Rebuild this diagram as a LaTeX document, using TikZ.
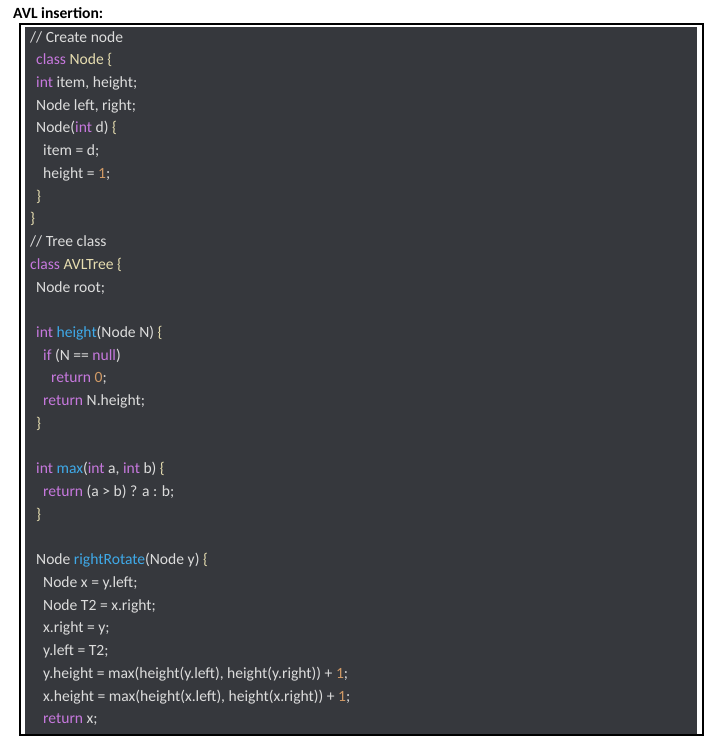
\documentclass[tikz,border=0pt]{standalone}
\usepackage{fontspec}
\setmainfont{Carlito}
\definecolor{bg}{HTML}{36383D}
\definecolor{tx}{HTML}{DCDCDC}
\definecolor{kw}{HTML}{C678DD}
\definecolor{fn}{HTML}{3FA9E8}
\definecolor{nu}{HTML}{D19A66}
\definecolor{br}{HTML}{E6DDB0}
\newcommand{\K}[1]{\textcolor{kw}{#1}}
\newcommand{\F}[1]{\textcolor{fn}{#1}}
\newcommand{\N}[1]{\textcolor{nu}{#1}}
\newcommand{\B}[1]{\textcolor{br}{#1}}
\begin{document}
\begin{tikzpicture}[x=1pt,y=-1pt,
  code/.style={anchor=base west,inner sep=0pt,text=tx,font=\fontsize{15.6}{18}\selectfont}]
\useasboundingbox (0,0) rectangle (713,747);
\fill[white] (0,0) rectangle (713,747);
\node[anchor=base west,inner sep=0pt,font=\bfseries\fontsize{15.6}{18}\selectfont] (title) at (13,18) {AVL insertion:};
\fill[bg] (25,27) rectangle (697,735);
\draw[line width=1.3pt] (20,24) rectangle (703,735);
\def\ys{22.73}
\node[code] (l1) at (30,42) {// Create node};
\node[code] (l2) at (36,42+1*\ys) {\K{class} \B{Node \{}};
\node[code] (l3) at (36,42+2*\ys) {\K{int} item, height;};
\node[code] (l4) at (36,42+3*\ys) {Node left, right;};
\node[code] (l5) at (36,42+4*\ys) {Node(\K{int} d) \B{\{}};
\node[code] (l6) at (43,42+5*\ys) {item = d;};
\node[code] (l7) at (43,42+6*\ys) {height = \N{1};};
\node[code] (l8) at (36,42+7*\ys) {\B{\}}};
\node[code] (l9) at (30,42+8*\ys) {\B{\}}};
\node[code] (l10) at (30,42+9*\ys) {// Tree class};
\node[code] (l11) at (30,42+10*\ys) {\K{class} \B{AVLTree \{}};
\node[code] (l12) at (36,42+11*\ys) {Node root;};
\node[code] (l14) at (36,42+13*\ys) {\K{int} \F{height}(Node N) \B{\{}};
\node[code] (l15) at (43,42+14*\ys) {\K{if} (N == \K{null})};
\node[code] (l16) at (51,42+15*\ys) {\K{return} \N{0};};
\node[code] (l17) at (43,42+16*\ys) {\K{return} N.height;};
\node[code] (l18) at (36,42+17*\ys) {\B{\}}};
\node[code] (l20) at (36,42+19*\ys) {\K{int} \F{max}(\K{int} a, \K{int} b) \B{\{}};
\node[code] (l21) at (43,42+20*\ys) {\K{return} (a > b) ? a : b;};
\node[code] (l22) at (36,42+21*\ys) {\B{\}}};
\node[code] (l24) at (36,42+23*\ys) {Node \F{rightRotate}(Node y) \B{\{}};
\node[code] (l25) at (43,42+24*\ys) {Node x = y.left;};
\node[code] (l26) at (43,42+25*\ys) {Node T2 = x.right;};
\node[code] (l27) at (43,42+26*\ys) {x.right = y;};
\node[code] (l28) at (43,42+27*\ys) {y.left = T2;};
\node[code] (l29) at (43,42+28*\ys) {y.height = max(height(y.left), height(y.right)) + \N{1};};
\node[code] (l30) at (43,42+29*\ys) {x.height = max(height(x.left), height(x.right)) + \N{1};};
\node[code] (l31) at (43,42+30*\ys) {\K{return} x;};
\end{tikzpicture}
\end{document}
